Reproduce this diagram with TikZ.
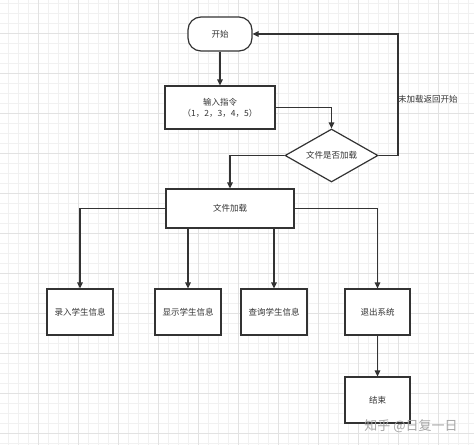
\documentclass[tikz,border=0pt]{standalone}
\usepackage{fontspec}
\newfontfamily\cjk{Noto Sans CJK SC}
\usetikzlibrary{shapes.geometric,arrows.meta}
\definecolor{ink}{HTML}{333333}
\definecolor{gridminor}{HTML}{F1F1F1}
\definecolor{gridmajor}{HTML}{E2E2E2}
\tikzset{
  box/.style={draw=ink, line width=1.2pt, fill=white, inner sep=1pt, align=center,
    font=\cjk\fontsize{8.5}{11}\selectfont, text=ink},
  arr/.style={draw=ink, line width=1.2pt, -{Triangle[length=6pt,width=5.5pt]}},
  lbl/.style={font=\cjk\fontsize{8.5}{10}\selectfont, text=ink, inner sep=1pt}
}
\begin{document}
\begin{tikzpicture}[x=1pt,y=-1pt]
\useasboundingbox (0,0) rectangle (474,445);
\fill[white] (0,0) rectangle (474,445);
% grid
\foreach \i in {8,18,...,468} \draw[gridminor, line width=0.5pt] (\i,0) -- (\i,445);
\foreach \j in {3,13,...,443} \draw[gridminor, line width=0.5pt] (0,\j) -- (474,\j);
\foreach \i in {38,78,...,438} \draw[gridmajor, line width=0.6pt] (\i,0) -- (\i,445);
\foreach \j in {33,73,...,433} \draw[gridmajor, line width=0.6pt] (0,\j) -- (474,\j);

\node[box, rounded corners=13pt, minimum width=64pt, minimum height=34pt] (start) at (220,34) {开始};
\node[box, minimum width=110pt, minimum height=43pt] (input) at (220,107.5) {输入指令\\（1，2，3，4，5）};
\node[box, diamond, aspect=1.75, inner sep=0pt, minimum width=93pt, minimum height=53pt] (dia) at (331.5,155.5) {文件是否加载};
\node[box, minimum width=128pt, minimum height=39pt] (load) at (230,208.5) {文件加载};
\node[box, minimum width=66pt, minimum height=46pt] (b1) at (80,312) {录入学生信息};
\node[box, minimum width=66pt, minimum height=46pt] (b2) at (188,312) {显示学生信息};
\node[box, minimum width=66pt, minimum height=46pt] (b3) at (274,312) {查询学生信息};
\node[box, minimum width=65pt, minimum height=46pt] (b4) at (377.5,312) {退出系统};
\node[box, minimum width=65pt, minimum height=46pt] (end) at (377.5,400) {结束};

\coordinate (ret) at (398,155.5);
\draw[arr] (start.south) -- (input.north);
\draw[arr] (input.east) -| (dia.north);
\draw[arr] (dia.east) -- (ret) |- (start.east);
\node[lbl, anchor=west] (retlbl) at (397,99) {未加载返回开始};
\draw[arr] (dia.west) -| (load.north);
\draw[arr] (load.west) -| (b1.north);
\draw[arr] (b2.north |- load.south) -- (b2.north);
\draw[arr] (b3.north |- load.south) -- (b3.north);
\draw[arr] (load.east) -| (b4.north);
\draw[arr] (b4.south) -- (end.north);

\node[font=\cjk\fontsize{13}{14}\selectfont, text=black!35, inner sep=0pt] (wm) at (411,426) {知乎 @日复一日};
\end{tikzpicture}
\end{document}
